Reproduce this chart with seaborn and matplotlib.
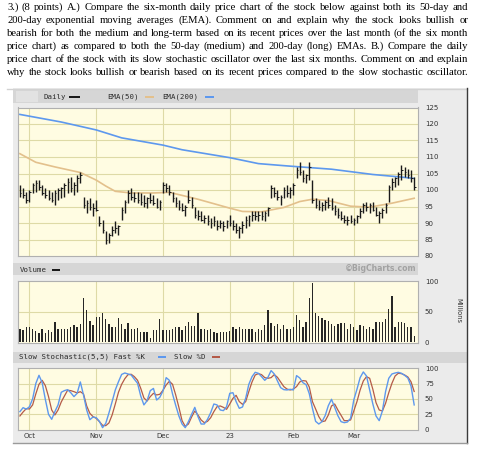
import matplotlib
matplotlib.use('Agg')
import matplotlib.pyplot as plt
import seaborn as sns
import pandas as pd
from matplotlib.patches import Rectangle

# question text above the chart, one entry per printed line
QUESTION = [
    "3.) (8 points) A.) Compare the six-month daily price chart of the stock below against both its 50-day and",
    "200-day exponential moving averages (EMA). Comment on and explain why the stock looks bullish or",
    "bearish for both the medium and long-term based on its recent prices over the last month (of the six month",
    "price chart) as compared to both the 50-day (medium) and 200-day (long) EMAs. B.) Compare the daily",
    "price chart of the stock with its slow stochastic oscillator over the last six months. Comment on and explain",
    "why the stock looks bullish or bearish based on its recent prices compared to the slow stochastic oscillator.",
]

# daily bars, Sep 28 .. Mar 28 (trading days)
LOW = [98.0, 97.5, 96.0, 96.5, 99.0, 99.5, 100.0, 98.5, 97.5, 97.0,
       96.5, 95.5, 97.0, 97.5, 98.0, 99.0, 99.5, 98.5, 99.5, 102.0,
       94.5, 93.0, 94.0, 92.0, 93.5, 89.0, 87.0, 83.5, 84.0, 86.0,
       87.0, 86.5, 91.0, 93.0, 96.0, 97.0, 96.5, 96.0, 95.5, 95.0,
       94.5, 96.0, 95.5, 94.5, 94.0, 99.0, 99.5, 98.5, 96.5, 95.0,
       94.0, 93.5, 92.0, 96.0, 94.5, 91.5, 91.0, 90.5, 90.0, 89.5,
       88.5, 89.0, 88.0, 88.5, 87.5, 88.5, 89.0, 88.0, 87.0, 85.5,
       87.0, 88.5, 89.0, 90.5, 91.0, 90.5, 91.0, 90.5, 92.0, 97.5,
       98.0, 97.0, 95.5, 97.5, 98.0, 97.5, 98.5, 103.5, 104.5, 102.5,
       102.0, 103.0, 96.0, 94.5, 94.0, 93.5, 94.0, 94.5, 94.0, 92.5,
       91.5, 91.0, 90.0, 89.5, 90.0, 89.5, 90.0, 91.5, 93.0, 93.5,
       93.0, 93.5, 92.0, 90.0, 91.5, 93.0, 96.5, 100.0, 101.0, 101.5,
       103.0, 104.0, 103.5, 102.5, 100.0]
HIGH = [101.5, 100.5, 99.5, 100.0, 102.0, 103.0, 103.0, 101.5, 100.5, 100.0,
        99.5, 100.0, 100.5, 101.0, 102.0, 103.5, 104.0, 102.5, 104.5, 105.5,
        98.0, 97.0, 97.5, 96.0, 97.0, 92.0, 91.0, 87.5, 87.0, 89.0,
        90.5, 89.5, 95.0, 97.0, 100.0, 100.5, 99.5, 99.5, 99.0, 98.5,
        98.0, 99.0, 98.5, 97.5, 97.0, 102.5, 102.0, 101.5, 99.5, 98.0,
        97.0, 96.0, 95.5, 100.0, 98.0, 95.0, 94.0, 93.5, 92.5, 92.5,
        91.5, 92.0, 91.0, 91.0, 90.5, 91.0, 92.5, 91.0, 90.0, 89.0,
        90.5, 92.0, 92.5, 93.5, 93.5, 93.5, 93.5, 93.5, 95.0, 101.5,
        101.0, 100.0, 98.5, 101.0, 101.5, 101.0, 102.0, 107.0, 108.5, 106.0,
        105.0, 108.5, 103.0, 97.5, 97.0, 96.5, 97.0, 98.0, 97.5, 95.5,
        94.5, 93.5, 92.5, 92.0, 92.5, 91.5, 92.5, 94.5, 96.0, 96.5,
        96.0, 96.5, 95.0, 93.5, 94.5, 96.0, 101.5, 103.5, 104.0, 105.5,
        107.5, 107.0, 106.5, 106.0, 104.0]
CLOSE = [99.0, 98.5, 97.0, 99.5, 101.5, 102.0, 101.0, 99.0, 98.5, 97.5,
         97.0, 99.0, 100.0, 100.5, 101.5, 102.5, 100.5, 101.5, 103.5, 104.5,
         95.5, 96.0, 95.0, 94.5, 94.0, 90.0, 88.0, 85.0, 86.5, 88.0,
         88.5, 89.0, 94.0, 96.5, 99.0, 98.0, 97.5, 97.0, 96.5, 96.0,
         97.5, 97.0, 96.0, 95.0, 96.5, 101.5, 100.5, 99.5, 97.5, 96.0,
         95.0, 94.0, 95.0, 97.0, 95.5, 92.5, 92.0, 91.0, 91.5, 90.5,
         90.0, 90.5, 89.0, 90.0, 89.0, 90.5, 90.0, 89.0, 88.0, 88.5,
         89.5, 91.0, 92.0, 92.5, 92.0, 92.5, 92.0, 93.0, 94.5, 100.5,
         99.0, 98.0, 98.0, 100.0, 99.0, 100.0, 101.5, 106.0, 105.5, 103.5,
         104.5, 107.0, 97.0, 95.5, 95.0, 95.5, 96.5, 95.5, 94.5, 93.5,
         92.5, 91.5, 91.0, 91.0, 90.5, 91.0, 92.0, 93.5, 95.5, 95.0,
         95.5, 94.0, 92.5, 93.0, 94.0, 95.5, 101.0, 102.5, 103.5, 105.0,
         106.0, 105.5, 104.5, 103.5, 101.0]

# volume, millions
VOLUME = [22, 20, 25, 24, 21, 18, 15, 22, 14, 20,
          17, 32, 21, 21, 21, 21, 25, 28, 24, 29,
          72, 52, 34, 28, 41, 41, 47, 38, 29, 25,
          25, 40, 29, 22, 31, 22, 21, 23, 17, 17,
          17, 7, 19, 19, 38, 20, 19, 19, 21, 25,
          24, 20, 26, 33, 26, 26, 48, 21, 21, 20,
          22, 16, 15, 17, 17, 17, 18, 25, 21, 25,
          21, 21, 21, 21, 17, 21, 19, 28, 52, 31,
          26, 29, 22, 28, 22, 22, 25, 45, 36, 24,
          32, 72, 97, 48, 42, 40, 36, 35, 30, 27,
          30, 31, 31, 21, 30, 25, 20, 28, 26, 22,
          24, 22, 33, 32, 32, 37, 54, 75, 25, 32,
          32, 31, 24, 24, 10]

# slow stochastic (5,5)
FAST_K = [29, 35.5, 33, 37, 50, 75, 88.5, 76.5, 49, 24.6,
          16.4, 29, 40, 60.7, 63.4, 65, 60, 53.6, 59, 77.6,
          56.3, 31.7, 15.8, 20.2, 19.1, 13.1, 2.7, 9.8, 26.8, 45.4,
          64.5, 78, 90, 92.3, 90.7, 89, 82, 75.4, 54.6, 40,
          47, 63.4, 67, 48, 52.5, 62.8, 84.7, 80.3, 58, 39.3,
          21.9, 8.7, 2.7, 12.6, 24.6, 36, 20.8, 8.7, 8.7, 16.4,
          27.3, 41.5, 40, 31.7, 30.6, 37.2, 59, 60, 45.4, 34.4,
          36.6, 50.8, 73.8, 86.3, 93.4, 91.8, 86.3, 80.3, 85.2, 96.2,
          90.7, 79.2, 68.3, 65, 64.5, 65.6, 64.5, 88, 84.2, 76.5,
          73.2, 58.5, 34.4, 13.1, 8.7, 12.6, 22.4, 38.8, 49.2, 36,
          22.4, 12.6, 10.9, 12, 18, 48, 65.6, 84.7, 94, 87.4,
          64.5, 41.5, 21.9, 14.2, 30, 61.7, 83.6, 90.7, 92.3, 93.4,
          91.8, 88.5, 84.2, 71, 40]
SLOW_D = [21.9, 28.4, 33.9, 33.3, 40, 58, 73.8, 80.3, 71.6, 53.6,
          31.7, 23.5, 31.7, 44.8, 54.6, 64, 63.4, 61.7, 59.6, 61.7,
          58, 38.3, 26.2, 20.8, 18, 12.6, 6.6, 6, 10.4, 23.5,
          41.5, 60.7, 73.8, 83, 89.6, 90.2, 86.3, 80.3, 67.2, 51.4,
          46.4, 53.6, 59, 56.3, 57.4, 64, 72.7, 78.7, 73.8, 56.3,
          36, 14.2, 4.9, 8.7, 20.2, 30, 23.5, 15.3, 10.9, 13.1,
          19.1, 29, 37.2, 38.3, 36, 32.8, 41.5, 50.8, 55.7, 45.4,
          41, 45.4, 62, 77.6, 89, 91.3, 89.6, 84.7, 83.6, 84.7,
          89.6, 85.2, 77.6, 70, 66, 64.5, 66, 70, 77.6, 79.8,
          79.2, 69.4, 45.4, 33.3, 20.8, 12.6, 13.7, 23.5, 38.3, 41.5,
          31.7, 23, 14.2, 14.2, 15.3, 30, 45.4, 64.5, 79.2, 86.3,
          83.6, 65.6, 43.7, 31.7, 30, 42.6, 60, 75.4, 87.4, 91.8,
          91.3, 89, 85.8, 78, 62]

# moving averages read at a few days
EMA50_DAY = [0, 5, 11, 19, 24, 27, 30, 35, 42, 47, 56, 66, 70, 76, 83, 88, 92, 97, 104, 110, 117, 124]
EMA50 = [111.0, 108.4, 107.0, 105.3, 103.0, 101.2, 99.6, 99.1, 99.1, 99.3, 97.2,
         94.5, 93.5, 93.4, 94.7, 96.5, 97.2, 96.8, 95.1, 94.8, 96.0, 97.5]
EMA200_DAY = [0, 13, 24, 32, 45, 51, 66, 75, 84, 98, 111, 119, 124]
EMA200 = [122.9, 120.6, 118.2, 115.8, 113.6, 112.2, 109.8, 108.0, 107.3, 106.3, 104.7, 104.0, 103.5]

MONTH_DAY = [3, 24, 45, 66, 86, 105]
MONTH_LABEL = ['Oct', 'Nov', 'Dec', '23', 'Feb', 'Mar']
PRICE_TICKS = [80, 85, 90, 95, 100, 105, 110, 115, 120, 125]

df = pd.DataFrame({'day': range(len(LOW)), 'low': LOW, 'high': HIGH, 'close': CLOSE,
                   'volume': VOLUME, 'k': FAST_K, 'd': SLOW_D})

W, H = 484, 457
CREAM = '#fffce2'
GRID = '#dedaa6'
BAR = '#1a1a1a'
TAN = '#e3c08c'
BLUE = '#5d98ee'
RED = '#b45a48'
XLIM = (-0.6, 125.2)

fig = plt.figure(figsize=(W / 100, H / 100), dpi=100)
bg = fig.add_axes([0, 0, 1, 1])
bg.set_xlim(0, W)
bg.set_ylim(H, 0)
bg.axis('off')

# question text, justified
serif = 'Liberation Serif'
renderer = fig.canvas.get_renderer()
left, right = 7, 468
probe = [bg.text(0, 0, ln, fontsize=10, family=serif) for ln in QUESTION]
natural = max(p.get_window_extent(renderer).width for p in probe)
for p in probe:
    p.remove()
fs = 10 * (right - left) / natural * 0.995
for k, ln in enumerate(QUESTION):
    words = ln.split(' ')
    arts = [bg.text(0, 10 + 13.06 * k, w, fontsize=fs, family=serif, va='baseline') for w in words]
    widths = [a.get_window_extent(renderer).width for a in arts]
    gap = (right - left - sum(widths)) / (len(words) - 1)
    x = left
    for a, w in zip(arts, widths):
        a.set_x(x)
        x += w + gap

# chart frame and header bars
bg.add_patch(Rectangle((12.5, 88), 454, 354.5, fc='#ebebeb', ec='none'))
bg.plot([7, 467], [88.5, 88.5], color='#d2d2d2', lw=1)
bg.plot([466.5, 466.5], [88, 442.5], color='#3a3a3a', lw=1)
bg.plot([12.5, 466.5], [442.5, 442.5], color='#9a9a9a', lw=1)
bg.add_patch(Rectangle((12.5, 90), 405.5, 12.7, fc='#d6d6d6', ec='none'))
bg.add_patch(Rectangle((16, 91), 22, 10.7, fc='#e2e2e2', ec='none'))
bg.add_patch(Rectangle((12.5, 263), 405.5, 12, fc='#d6d6d6', ec='none'))
bg.add_patch(Rectangle((12.5, 351.5), 454, 11.5, fc='#d6d6d6', ec='none'))

mono = dict(family='DejaVu Sans Mono', fontsize=5.3, color='#2a2a2a', va='center')
bg.text(43, 96.5, 'Daily', **mono)
bg.add_patch(Rectangle((69, 95.8), 11, 2.2, fc=BAR, ec='none'))
bg.text(107, 96.5, 'EMA(50)', **mono)
bg.add_patch(Rectangle((145, 95.8), 9, 2.2, fc=TAN, ec='none'))
bg.text(162, 96.5, 'EMA(200)', **mono)
bg.add_patch(Rectangle((205, 95.8), 9, 2.2, fc=BLUE, ec='none'))
bg.text(19.3, 269.5, 'Volume', **mono)
bg.add_patch(Rectangle((52, 268.5), 8, 2.2, fc=BAR, ec='none'))
bg.text(417, 268.8, '\u00a9BigCharts.com', family='DejaVu Sans', fontsize=5.6,
        fontweight='bold', color='#a2a2a2', ha='right', va='center')
bg.text(19.3, 357, 'Slow Stochastic(5,5) Fast %K', **mono)
bg.add_patch(Rectangle((158, 356), 8, 2.2, fc=BLUE, ec='none'))
bg.text(173.5, 357, 'Slow %D', **mono)
bg.add_patch(Rectangle((212, 356), 8, 2.2, fc=RED, ec='none'))
bg.text(458, 311, 'Millions', family='DejaVu Sans', fontsize=4.8, color='#333333',
        rotation=270, ha='center', va='center')


def panel(y0, y1):
    ax = fig.add_axes([18 / W, 1 - y1 / H, 400 / W, (y1 - y0) / H])
    ax.set_facecolor(CREAM)
    for s in ax.spines.values():
        s.set_color('#b0b0b0')
        s.set_linewidth(0.8)
    ax.yaxis.tick_right()
    ax.tick_params(axis='y', length=0, pad=5, labelsize=5, labelcolor='#333333')
    ax.tick_params(axis='x', length=0)
    for m in MONTH_DAY:
        ax.axvline(m, color=GRID, lw=0.8, zorder=0)
    return ax


# price panel
ax1 = panel(107.5, 256)
for v in PRICE_TICKS[1:-1]:
    ax1.axhline(v, color=GRID, lw=0.8, zorder=0)
sns.lineplot(x=EMA200_DAY, y=EMA200, color=BLUE, lw=1.2, ax=ax1, zorder=2)
sns.lineplot(x=EMA50_DAY, y=EMA50, color=TAN, lw=1.2, ax=ax1, zorder=2)
ax1.vlines(df['day'], df['low'], df['high'], color=BAR, lw=1.0, zorder=3)
ax1.hlines(df['close'], df['day'], df['day'] + 0.5, color=BAR, lw=0.7, zorder=3)
ax1.set_ylim(80, 125)
ax1.set_yticks(PRICE_TICKS)
ax1.set_xlim(*XLIM)
ax1.set_xticks([])
ax1.set_xlabel('')
ax1.set_ylabel('')

# volume panel
ax2 = panel(281, 343)
ax2.axhline(50, color=GRID, lw=0.8, zorder=0)
sns.barplot(data=df, x='day', y='volume', native_scale=True, width=0.42,
            color='#262626', linewidth=0, errorbar=None, ax=ax2, zorder=3)
ax2.set_ylim(-1.6, 100)
ax2.set_yticks([0, 50, 100])
ax2.set_xlim(*XLIM)
ax2.set_xticks([])
ax2.set_xlabel('')
ax2.set_ylabel('')

# stochastic panel
ax3 = panel(367.5, 430)
for v in [25, 50, 75]:
    ax3.axhline(v, color=GRID, lw=0.8, zorder=0)
sns.lineplot(data=df, x='day', y='d', color=RED, lw=0.9, ax=ax3, zorder=2)
sns.lineplot(data=df, x='day', y='k', color=BLUE, lw=1.0, ax=ax3, zorder=3)
ax3.set_ylim(-1.1, 101.3)
ax3.set_yticks([0, 25, 50, 75, 100])
ax3.set_xlim(*XLIM)
ax3.set_xticks(MONTH_DAY)
ax3.set_xticklabels(MONTH_LABEL)
ax3.tick_params(axis='x', pad=2.5, labelsize=5, labelcolor='#333333')
ax3.set_xlabel('')
ax3.set_ylabel('')

fig.savefig('out.png', dpi=100)
